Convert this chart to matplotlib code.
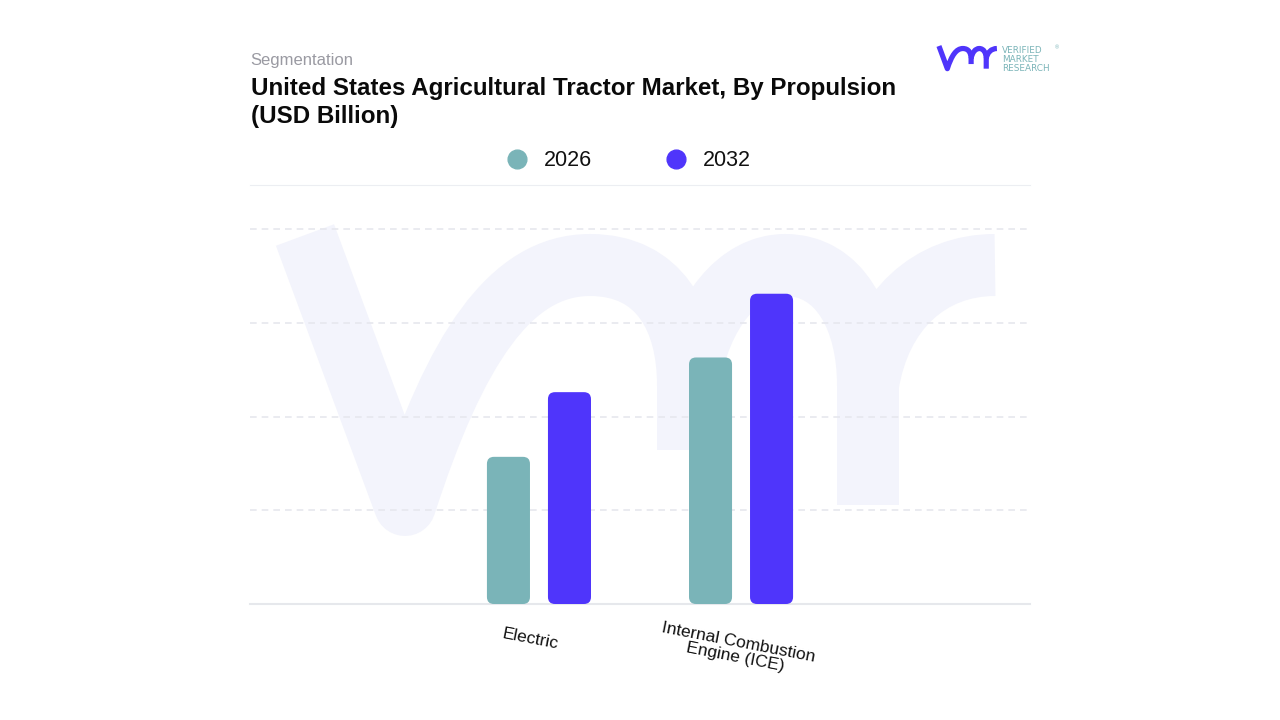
import matplotlib
matplotlib.use("Agg")
import matplotlib.pyplot as plt
from matplotlib.lines import Line2D
from matplotlib.patches import FancyBboxPatch, PathPatch
from matplotlib.path import Path
from matplotlib.transforms import IdentityTransform

# data
categories = ["Electric", "Internal Combustion\nEngine (ICE)"]
years = ["2026", "2032"]
values_2026 = [1.57, 2.63]
values_2032 = [2.26, 3.31]
grid_levels = [1, 2, 3, 4]

TEAL = "#7ab4b8"
INDIGO = "#4f35fb"

plt.rcParams["font.family"] = ["Liberation Sans", "DejaVu Sans"]

fig = plt.figure(figsize=(12.8, 7.2), dpi=100, facecolor="white")

# pixel canvas for the logo shapes and header texts
bg = fig.add_axes([0, 0, 1, 1], zorder=0)
bg.set_xlim(0, 1280)
bg.set_ylim(720, 0)
bg.axis("off")


def vmr_logo(ax, dx, dy, scale, color, width):
    # v + m + r drawn as one stroke each, coords are in watermark pixels
    strokes = [
        [(Path.MOVETO, (305, 235)), (Path.LINETO, (405, 505)),
         (Path.CURVE4, (455, 350)), (Path.CURVE4, (510, 265)), (Path.CURVE4, (590, 265)),
         (Path.CURVE4, (660, 265)), (Path.CURVE4, (688, 320)), (Path.CURVE4, (688, 385)),
         (Path.LINETO, (688, 450))],
        [(Path.MOVETO, (688, 385)),
         (Path.CURVE4, (700, 310)), (Path.CURVE4, (740, 265)), (Path.CURVE4, (785, 265)),
         (Path.CURVE4, (840, 265)), (Path.CURVE4, (868, 320)), (Path.CURVE4, (868, 385)),
         (Path.LINETO, (868, 505))],
        [(Path.MOVETO, (868, 385)),
         (Path.CURVE4, (880, 310)), (Path.CURVE4, (930, 265)), (Path.CURVE4, (995, 265))],
    ]
    for s in strokes:
        verts = [(dx + x * scale, dy + y * scale) for _, (x, y) in s]
        codes = [c for c, _ in s]
        ax.add_patch(PathPatch(Path(verts, codes), fc="none", ec=color,
                               lw=width * 0.72, capstyle="butt", joinstyle="round"))


vmr_logo(bg, 0, 0, 1, "#f3f4fc", 62)
vmr_logo(bg, 936 - 270 * 0.084, 46 - 235 * 0.084, 0.084, INDIGO, 5.2)

# chart area, baseline at y=604, top rule at y=185
ax = fig.add_axes([250 / 1280, 1 - 604 / 720, 780 / 1280, 419 / 720], zorder=1)
ax.patch.set_alpha(0)
ax.set_xlim(-1.43, 2.43)
ax.set_ylim(0, 4.47)

for lvl in grid_levels:
    ax.axhline(lvl, color="#e6e7ee", lw=1.2, ls=(0, (4, 3)), zorder=1)

for side in ["left", "right"]:
    ax.spines[side].set_visible(False)
ax.spines["top"].set_color("#eceef2")
ax.spines["bottom"].set_color("#e6e8ec")
ax.spines["bottom"].set_linewidth(1.5)
ax.set_yticks([])

xs = list(range(len(categories)))
ax.set_xticks(xs)
ax.set_xticklabels([])
ax.tick_params(axis="x", length=0)

bar_w = 0.213
offset = 0.151
fig.canvas.draw()


def rounded_bar(x, value, color):
    # rounded corners stay circular when drawn in display pixels
    x0, y0 = ax.transData.transform((x - bar_w / 2, 0))
    x1, y1 = ax.transData.transform((x + bar_w / 2, value))
    r = 7
    fig.add_artist(FancyBboxPatch((x0 + r, y0 + r), x1 - x0 - 2 * r, y1 - y0 - 2 * r,
                                  boxstyle=f"round,pad={r},rounding_size={r}",
                                  fc=color, ec="none", transform=IdentityTransform(),
                                  zorder=3))


for x, v in zip(xs, values_2026):
    rounded_bar(x - offset, v, TEAL)
for x, v in zip(xs, values_2032):
    rounded_bar(x + offset, v, INDIGO)

# category labels, tilted
ax.text(xs[0] - 0.04, -0.37, categories[0], rotation=-11, ha="center", va="center",
        fontsize=12.5, color="#111111", rotation_mode="anchor", linespacing=1.05)
ax.text(xs[1] - 0.02, -0.49, categories[1], rotation=-11, ha="center", va="center",
        fontsize=12.5, color="#111111", rotation_mode="anchor", linespacing=1.05)

# legend
handles = [Line2D([], [], ls="none", marker="o", ms=13.5, color=c) for c in (TEAL, INDIGO)]
fig.legend(handles, years, ncol=2, frameon=False, fontsize=15.5, loc="center",
           bbox_to_anchor=(623 / 1280, 1 - 161 / 720), columnspacing=2.9,
           handletextpad=0.25, labelcolor="#111111")

# header
bg.text(250, 60, "Segmentation", fontsize=12, color="#9a9aa2", va="center", ha="left")
bg.text(251, 88, "United States Agricultural Tractor Market, By Propulsion",
        fontsize=17.4, fontweight="bold", color="#0a0a0a", va="center", ha="left")
bg.text(251, 117, "(USD Billion)", fontsize=17.4, fontweight="bold", color="#0a0a0a",
        va="center", ha="left")

# logo wordmark
for y, word in zip([50.5, 59.5, 68.5], ["VERIFIED", "MARKET", "RESEARCH"]):
    bg.text(1002, y, word, fontsize=6.4, color=TEAL, va="center", ha="left",
            family="DejaVu Sans")
bg.text(1057, 48, "®", fontsize=4, color=TEAL, va="center", ha="center")

fig.savefig("out.png", dpi=100)
